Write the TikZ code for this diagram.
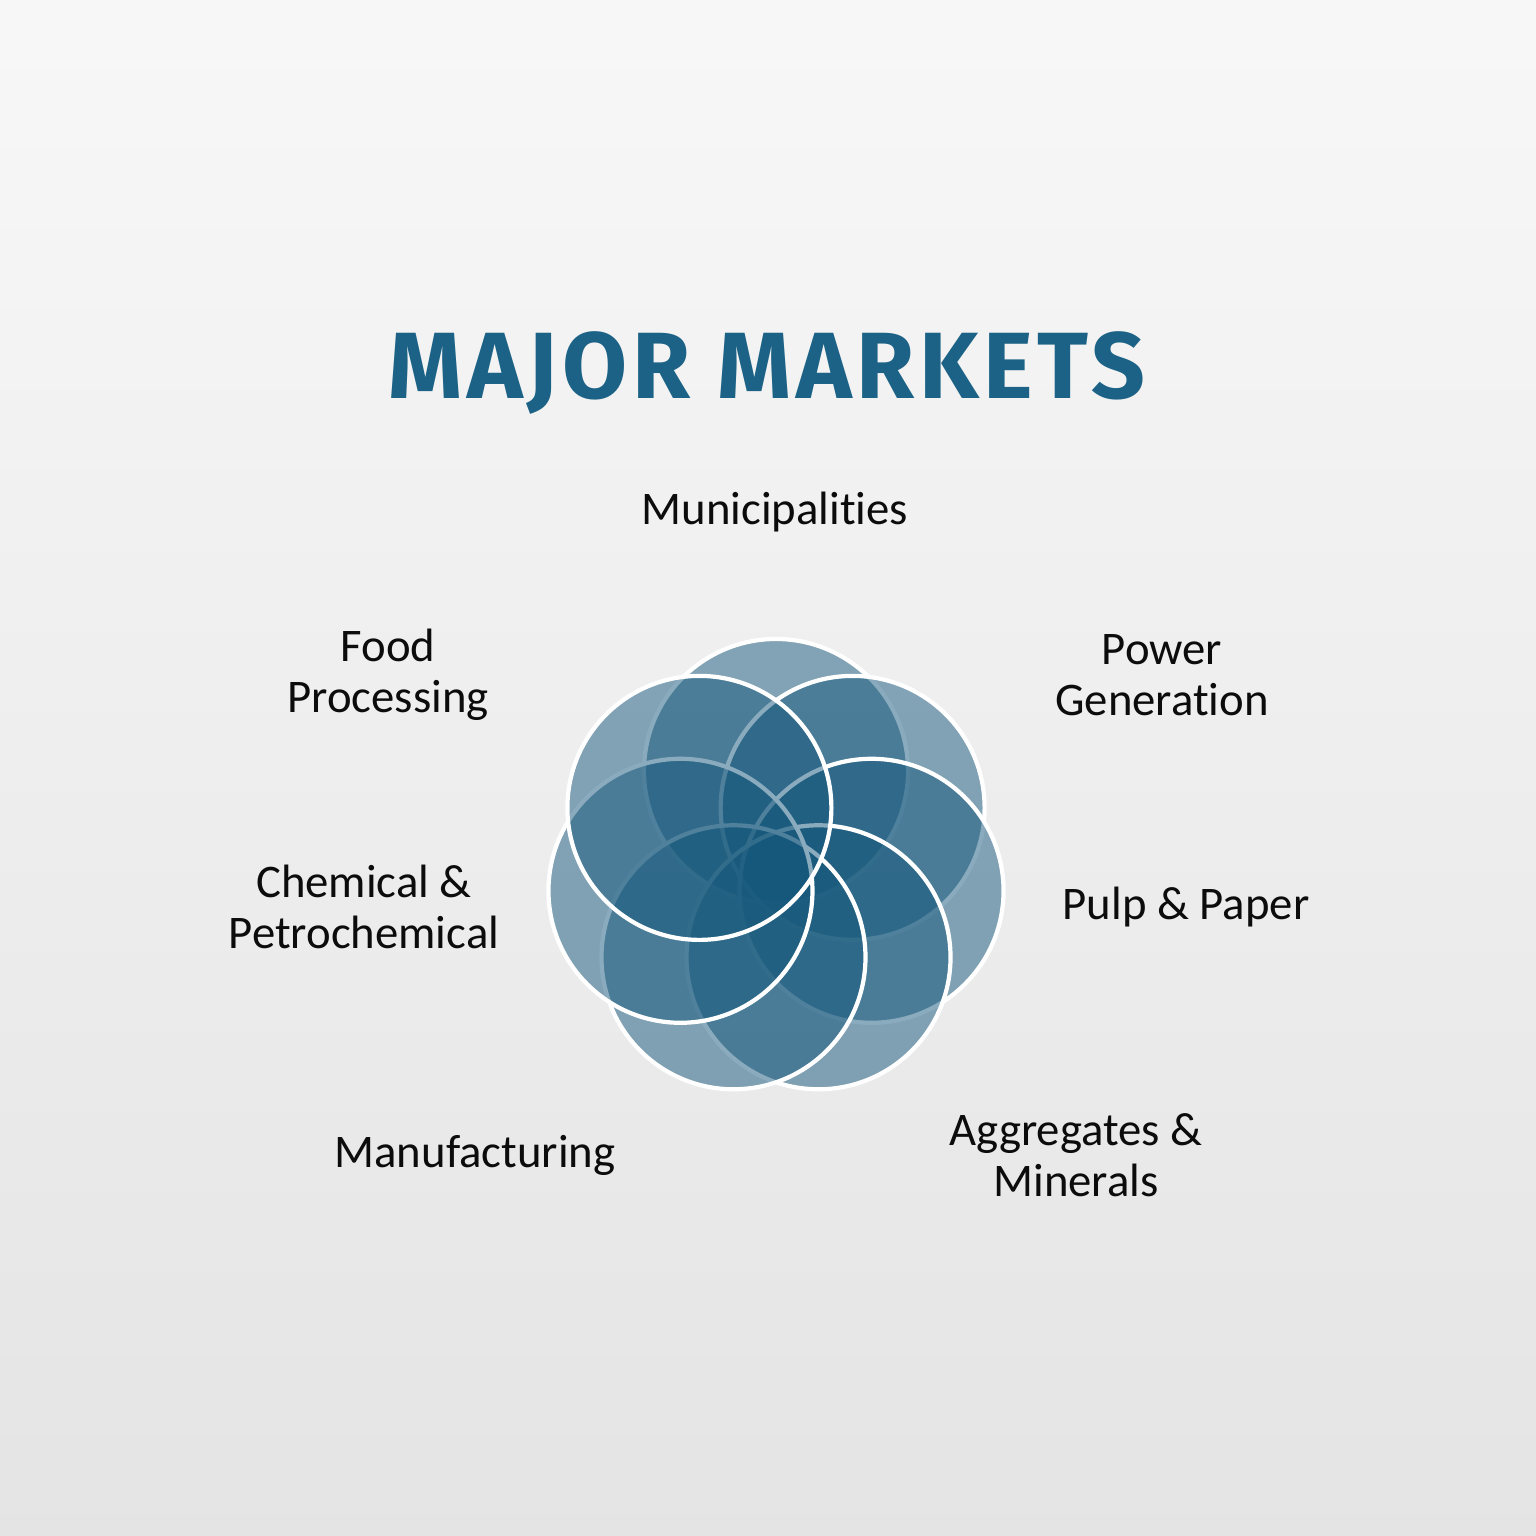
\documentclass[tikz,border=0pt]{standalone}
\usepackage{fontspec}
\setmainfont{Carlito}[Ligatures={NoCommon,NoContextual}]
\newfontfamily\titlefont{Fira Sans}[LetterSpace=5.0]
\usetikzlibrary{calc}
\definecolor{titleblue}{RGB}{27,98,134}
\definecolor{petalblue}{RGB}{22,88,124}
\definecolor{labelblack}{RGB}{12,12,12}
\tikzset{
  petal/.style={circle, minimum size=2.64cm, inner sep=0pt, fill=petalblue,
    fill opacity=0.5, draw=white, line width=1.2pt},
  market/.style={font=\fontsize{13.3}{14.5}\selectfont, text=labelblack, align=center},
}
\begin{document}
\begin{tikzpicture}
  % background
  \useasboundingbox (0,0) rectangle (15.36,15.36);
  \shade[top color=gray!6, middle color=gray!1, bottom color=gray!21] (0,0) rectangle (15.36,15.36);

  % title
  \node[font=\titlefont\bfseries\fontsize{26.8}{30}\selectfont, text=titleblue] (title) at (7.67,11.63) {MAJOR MARKETS};

  % seven circles, drawn clockwise from the top
  \coordinate (hub) at (7.76,6.67);
  \foreach \k in {0,...,6} {
    \node[petal] (p\k) at ($(hub)+({90-\k*360/7}:0.98)$) {};
  }

  % market labels
  \node[market] (muni) at (7.75,10.24) {Municipalities};
  \node[market] (power) at (11.62,8.61) {Power\\Generation};
  \node[market] (pulp) at (11.86,6.29) {Pulp \& Paper};
  \node[market] (aggr) at (10.76,3.81) {Aggregates \&\\Minerals};
  \node[market] (manu) at (4.75,3.81) {Manufacturing};
  \node[market] (chem) at (3.64,6.29) {Chemical \&\\Petrochemical};
  \node[market] (food) at (3.88,8.61) {Food\\Processing};
\end{tikzpicture}
\end{document}
